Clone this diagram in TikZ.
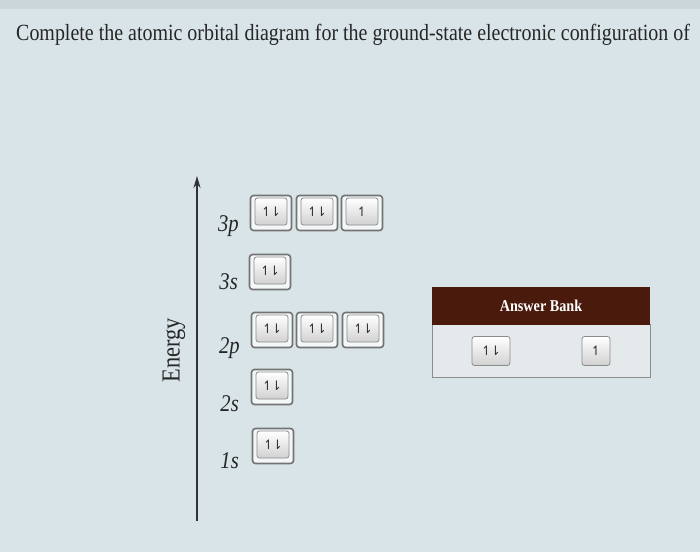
\documentclass[tikz,border=0pt]{standalone}
\usepackage{fontspec}
\setmainfont{Liberation Serif}
\newfontfamily\cond[FakeStretch=0.86]{Liberation Serif}
\newfontfamily\dv{DejaVu Sans}
\usetikzlibrary{arrows.meta,calc}
\definecolor{bg}{HTML}{D8E4E8}
\definecolor{hdr}{HTML}{4A1A0C}
\definecolor{bankbody}{HTML}{E4E9EB}
\tikzset{
  obox/.style={draw=black!55, line width=1.6pt, rounded corners=3pt, fill=white!70!bg,
    minimum width=41pt, minimum height=35pt, inner sep=0pt},
  ibox/.style={draw=black!45, line width=0.8pt, rounded corners=2.5pt, top color=white, bottom color=black!18,
    minimum width=32pt, minimum height=27pt, inner sep=0pt, text=black!80,
    font=\dv\fontsize{13}{13}\selectfont},
  lvl/.style={anchor=base east, font=\cond\itshape\fontsize{24}{26}\selectfont, text=black!85, inner sep=0pt},
}
\newcommand{\ud}{↿\kern-2pt⇂}
\newcommand{\orb}[4]{%
  \node[obox] (#1) at (#2,#3) {};
  \node[ibox] (#1i) at ($(#1)+(0,-1.5)$) {#4};
}
\begin{document}
\begin{tikzpicture}[x=1pt,y=-1pt]
\fill[bg] (0,0) rectangle (700,552);
\useasboundingbox (0,0) rectangle (700,552);
\fill[bg!94!black] (0,0) rectangle (700,9);
\node[anchor=base west, font=\cond\fontsize{23.2}{26}\selectfont, text=black!85, inner sep=0pt] (title) at (16,40)
  {Complete the atomic orbital diagram for the ground-state electronic configuration of};
% energy axis
\coordinate (axb) at (197,521);
\coordinate (axt) at (197,176);
\draw[-{Stealth[length=12pt,width=7pt]}, line width=1.6pt, black!80] (axb) -- (axt);
\node[rotate=90, font=\cond\fontsize{26}{28}\selectfont, text=black!85] (energy) at (174,350) {Energy};
% labels
\node[lvl] (l3p) at (239,231) {3p};
\node[lvl] (l3s) at (238,289) {3s};
\node[lvl] (l2p) at (240,353) {2p};
\node[lvl] (l2s) at (239,411) {2s};
\node[lvl] (l1s) at (239,468) {1s};
% orbitals
\orb{a1}{271}{213}{\ud}
\orb{a2}{317}{213}{\ud}
\orb{a3}{362}{213}{↿}
\orb{b1}{270}{272}{\ud}
\orb{c1}{272}{330}{\ud}
\orb{c2}{317}{330}{\ud}
\orb{c3}{363}{330}{\ud}
\orb{d1}{272}{387}{\ud}
\orb{e1}{273}{446}{\ud}
% answer bank
\node[draw=black!45, line width=1pt, fill=bankbody, minimum width=218pt, minimum height=53pt, inner sep=0pt] (bankbody) at (541,350.5) {};
\node[fill=hdr, minimum width=218pt, minimum height=38pt, inner sep=0pt, text=white,
  font=\cond\bfseries\fontsize{16.5}{18}\selectfont] (bankhead) at (541,305.5) {Answer Bank};
\node[ibox, minimum width=38pt, minimum height=29pt] (ansA) at (491,351) {\ud};
\node[ibox, minimum width=28pt, minimum height=29pt] (ansB) at (596,351) {↿};
\end{tikzpicture}
\end{document}
